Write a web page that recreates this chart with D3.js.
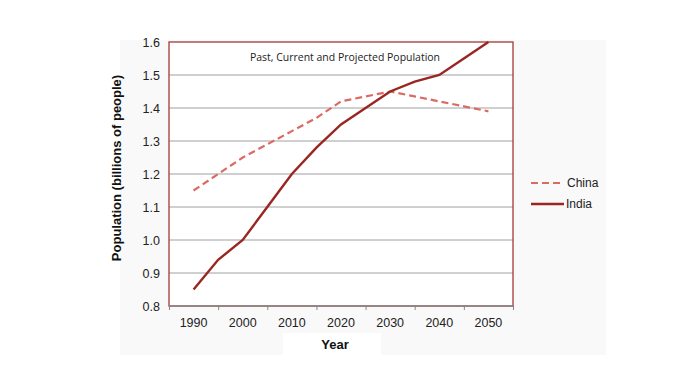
<!DOCTYPE html>
<html>
<head>
<meta charset="utf-8">
<script src="https://cdn.jsdelivr.net/npm/d3@7"></script>
<style>
  html, body { margin: 0; padding: 0; background: #fff; }
</style>
</head>
<body>
<svg width="690" height="387"></svg>
<script>
// data, every 5 years
const years = [1990, 1995, 2000, 2005, 2010, 2015, 2020, 2025, 2030, 2035, 2040, 2045, 2050];
const china = [1.15, 1.20, 1.25, 1.29, 1.33, 1.37, 1.42, 1.435, 1.45, 1.435, 1.42, 1.405, 1.39];
const india = [0.85, 0.94, 1.00, 1.10, 1.20, 1.28, 1.35, 1.40, 1.45, 1.48, 1.50, 1.55, 1.60];
const yearLabels = [1990, 2000, 2010, 2020, 2030, 2040, 2050];
const yTicks = [0.8, 0.9, 1.0, 1.1, 1.2, 1.3, 1.4, 1.5, 1.6];

const svg = d3.select('svg');
const plotL = 169, plotR = 513, plotT = 42, plotB = 306;
const font = '"Liberation Sans", Arial, sans-serif';

const x = d3.scaleLinear().domain([1985, 2055]).range([plotL, plotR]);
const y = d3.scaleLinear().domain([0.8, 1.6]).range([plotB, plotT]);

// faint grey backdrop
svg.append('rect')
    .attr('x', 120).attr('y', 40).attr('width', 486).attr('height', 315)
    .style('fill', '#f9f9f9');
svg.append('rect')
    .attr('x', 283).attr('y', 333).attr('width', 98).attr('height', 22)
    .style('fill', '#ffffff');

svg.append('rect')
    .attr('x', plotL).attr('y', plotT).attr('width', plotR - plotL).attr('height', plotB - plotT)
    .style('fill', '#ffffff');

// gridlines
svg.append('g')
    .selectAll('line')
    .data(yTicks.slice(1, -1))
    .join('line')
    .attr('x1', plotL).attr('x2', plotR)
    .attr('y1', d => y(d)).attr('y2', d => y(d))
    .style('stroke', '#a0a0a0')
    .style('stroke-width', 1);

// y axis
const yAxis = svg.append('g')
    .attr('transform', `translate(${plotL},0)`)
    .call(d3.axisLeft(y).tickValues(yTicks).tickFormat(d3.format('.1f')).tickSize(0).tickPadding(9));
yAxis.select('.domain').remove();
yAxis.selectAll('text')
    .style('font-family', font)
    .style('font-size', '12.5px')
    .style('fill', '#222');

// x axis: ticks on band boundaries, labels in the middle
const xAxis = svg.append('g')
    .attr('transform', `translate(0,${plotB})`)
    .call(d3.axisBottom(x).tickValues(d3.range(1985, 2056, 10)).tickFormat('').tickSize(4));
xAxis.select('.domain').remove();
xAxis.selectAll('line').style('stroke', '#888');
svg.append('g')
    .selectAll('text')
    .data(yearLabels)
    .join('text')
    .attr('x', d => x(d))
    .attr('y', plotB + 21)
    .attr('text-anchor', 'middle')
    .text(d => d)
    .style('font-family', font)
    .style('font-size', '12.5px')
    .style('fill', '#222');

// plot border
svg.append('rect')
    .attr('x', plotL).attr('y', plotT).attr('width', plotR - plotL).attr('height', plotB - plotT)
    .style('fill', 'none')
    .style('stroke', '#a03a36')
    .style('stroke-width', 1.3);
svg.append('line')
    .attr('x1', plotL).attr('x2', plotR).attr('y1', plotB).attr('y2', plotB)
    .style('stroke', '#888').style('stroke-width', 1.3);

const line = d3.line()
    .x((d, i) => x(years[i]))
    .y(d => y(d));

svg.append('path')
    .datum(china)
    .attr('d', line)
    .style('fill', 'none')
    .style('stroke', '#dc6a62')
    .style('stroke-width', 2.2)
    .style('stroke-dasharray', '7,4');

svg.append('path')
    .datum(india)
    .attr('d', line)
    .style('fill', 'none')
    .style('stroke', '#992621')
    .style('stroke-width', 2.4);

// title
svg.append('text')
    .attr('x', 345).attr('y', 61)
    .attr('text-anchor', 'middle')
    .attr('textLength', 190)
    .attr('lengthAdjust', 'spacingAndGlyphs')
    .text('Past, Current and Projected Population')
    .style('font-family', '"Open Sans", sans-serif')
    .style('font-size', '11.5px')
    .style('fill', '#222');

// axis titles
svg.append('text')
    .attr('transform', 'translate(121,168) rotate(-90)')
    .attr('text-anchor', 'middle')
    .text('Population (billions of people)')
    .style('font-family', font)
    .style('font-size', '13px')
    .style('font-weight', 'bold')
    .style('fill', '#111');

svg.append('text')
    .attr('x', 335).attr('y', 349)
    .attr('text-anchor', 'middle')
    .text('Year')
    .style('font-family', font)
    .style('font-size', '13px')
    .style('font-weight', 'bold')
    .style('fill', '#111');

// legend
const legend = svg.append('g');
legend.append('line')
    .attr('x1', 531).attr('x2', 560).attr('y1', 183).attr('y2', 183)
    .style('stroke', '#dc6a62').style('stroke-width', 2.2).style('stroke-dasharray', '7,4');
legend.append('text')
    .attr('x', 567).attr('y', 187).text('China')
    .style('font-family', font)
    .style('font-size', '12px').style('fill', '#222');
legend.append('line')
    .attr('x1', 531).attr('x2', 564).attr('y1', 204).attr('y2', 204)
    .style('stroke', '#992621').style('stroke-width', 2.6);
legend.append('text')
    .attr('x', 566).attr('y', 208).text('India')
    .style('font-family', font)
    .style('font-size', '12px').style('fill', '#222');
</script>
</body>
</html>
